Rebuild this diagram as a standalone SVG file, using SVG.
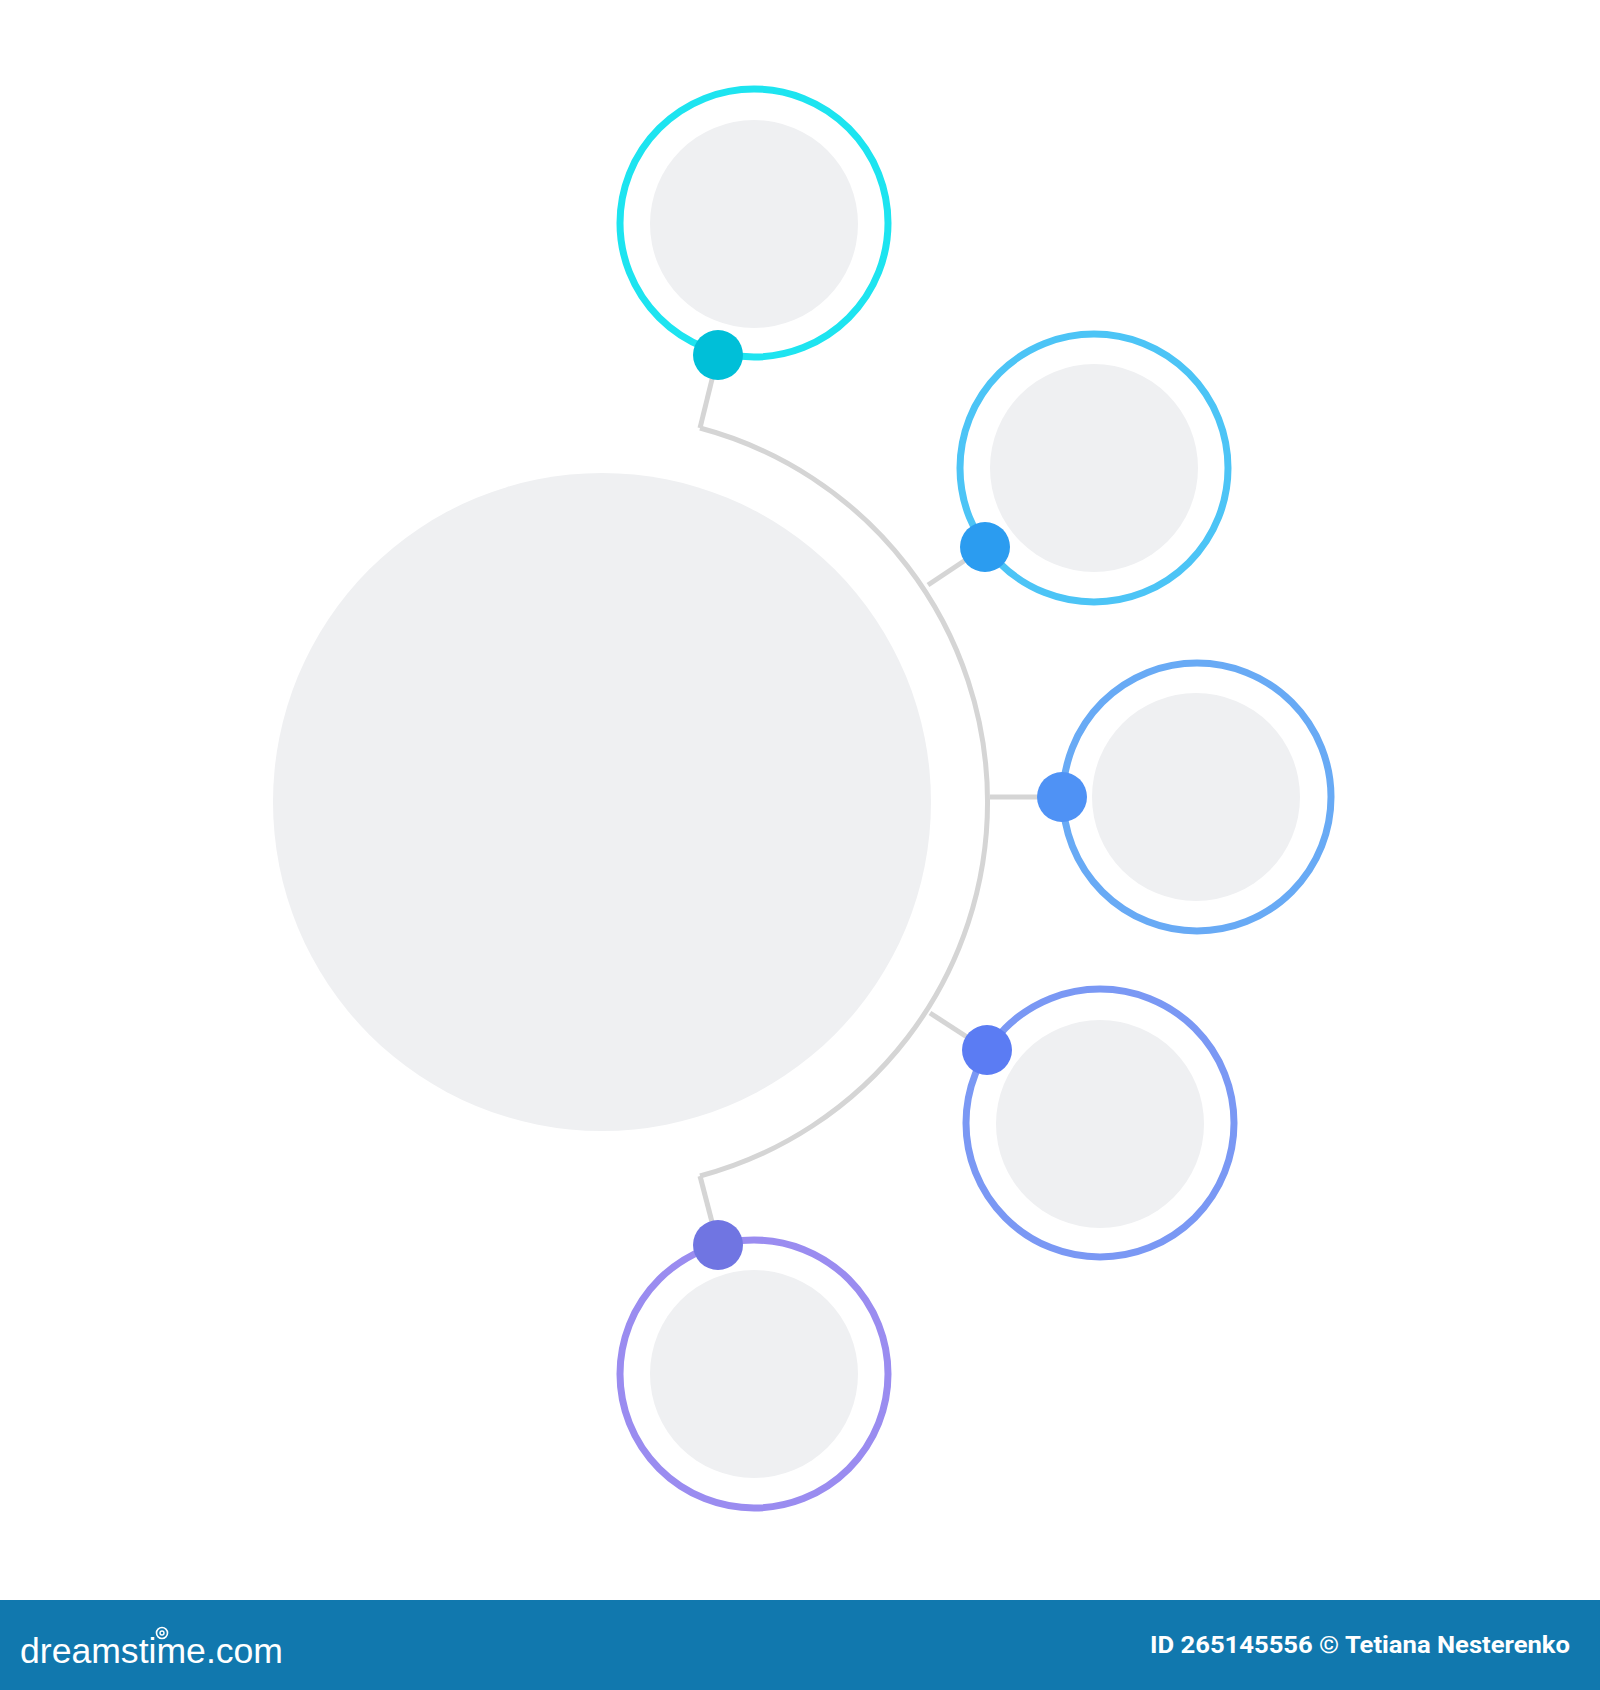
<svg xmlns="http://www.w3.org/2000/svg" width="1600" height="1690" viewBox="0 0 1600 1690">
  <style>
    .fill { fill: #eff0f2; }
    .ring { fill: none; stroke-width: 7; }
    .conn { fill: none; stroke: #d5d5d5; stroke-width: 5; stroke-linejoin: miter; }
    .foot { fill: #ffffff; }
  </style>
  <rect width="1600" height="1690" fill="#ffffff"/>

  <g id="connectors">
    <path class="conn" d="M 700 428 A 387 387 0 0 1 700 1176"/>
    <path class="conn" d="M 718 355 L 700 428"/>
    <path class="conn" d="M 718 1245 L 700 1176"/>
    <path class="conn" d="M 928 585 L 985 547"/>
    <path class="conn" d="M 990 797 L 1062 797"/>
    <path class="conn" d="M 930 1013 L 987 1050"/>
  </g>

  <g id="center">
    <circle class="fill" cx="602" cy="802" r="329"/>
  </g>

  <g id="node1">
    <circle class="ring" cx="754" cy="223" r="134" stroke="#1de4f0"/>
    <circle class="fill" cx="754" cy="224" r="104"/>
    <circle cx="718" cy="355" r="25" fill="#00bfd8"/>
  </g>

  <g id="node2">
    <circle class="ring" cx="1094" cy="468" r="134" stroke="#4cc4f6"/>
    <circle class="fill" cx="1094" cy="468" r="104"/>
    <circle cx="985" cy="547" r="25" fill="#2b9cf0"/>
  </g>

  <g id="node3">
    <circle class="ring" cx="1197" cy="797" r="134" stroke="#68aaf5"/>
    <circle class="fill" cx="1196" cy="797" r="104"/>
    <circle cx="1062" cy="797" r="25" fill="#4f92f5"/>
  </g>

  <g id="node4">
    <circle class="ring" cx="1100" cy="1123" r="134" stroke="#7a98f4"/>
    <circle class="fill" cx="1100" cy="1124" r="104"/>
    <circle cx="987" cy="1050" r="25" fill="#5b7cf3"/>
  </g>

  <g id="node5">
    <circle class="ring" cx="754" cy="1374" r="134" stroke="#9a8cf0"/>
    <circle class="fill" cx="754" cy="1374" r="104"/>
    <circle cx="718" cy="1245" r="25" fill="#7075e2"/>
  </g>

  <g id="footer">
    <rect x="0" y="1600" width="1600" height="90" fill="#1178ae"/>
    <text class="foot" x="20" y="1663" font-family="Liberation Sans, Arial, sans-serif" font-size="35" textLength="263" lengthAdjust="spacingAndGlyphs">dreamstime.com</text>
    <circle cx="162" cy="1633" r="5.5" fill="none" stroke="#ffffff" stroke-width="1.6"/>
    <circle cx="162" cy="1633" r="2" fill="none" stroke="#ffffff" stroke-width="1.4"/>
    <text class="foot" x="1150" y="1653" font-family="Roboto, Liberation Sans, sans-serif" font-weight="bold" font-size="24" textLength="420" lengthAdjust="spacingAndGlyphs">ID 265145556 © Tetiana Nesterenko</text>
  </g>
</svg>
